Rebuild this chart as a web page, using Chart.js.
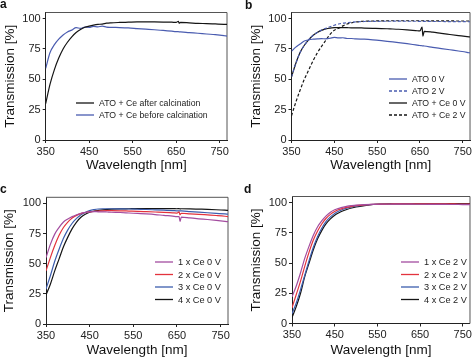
<!DOCTYPE html>
<html>
<head>
<meta charset="utf-8">
<script src="https://cdn.jsdelivr.net/npm/chart.js@4.4.1/dist/chart.umd.min.js"></script>
<style>
  html, body { margin: 0; padding: 0; background: #fff; }
  body { width: 474px; height: 358px; position: relative; overflow: hidden; }
  .panel { position: absolute; width: 237px; height: 179px; }
  .tag { position: absolute; font: bold 12px "Liberation Sans", Arial, sans-serif; color: #111; }
</style>
</head>
<body>
<div class="panel" style="left:0;top:0"><canvas id="chart-a" width="237" height="179"></canvas></div>
<div class="panel" style="left:237px;top:0"><canvas id="chart-b" width="237" height="179"></canvas></div>
<div class="panel" style="left:0;top:179px"><canvas id="chart-c" width="237" height="179"></canvas></div>
<div class="panel" style="left:237px;top:179px"><canvas id="chart-d" width="237" height="179"></canvas></div>
<div class="tag" style="left:0;top:-3px">a</div>
<div class="tag" style="left:245px;top:-2px">b</div>
<div class="tag" style="left:0;top:182px">c</div>
<div class="tag" style="left:244px;top:182px">d</div>
<script>
// wavelength grid [nm] shared by every curve
const wavelengths = [350, 360, 370, 380, 390, 400, 410, 420, 430, 440, 450, 460, 470, 480, 490, 500,
                     520, 540, 560, 580, 600, 620, 640, 650, 655, 657, 660, 680, 700, 720, 740, 760, 767]
const xTicks = [350, 450, 550, 650, 750]
const yTicks = [0, 25, 50, 75, 100]

// a
const ceAfterCalc  = [30, 46, 58, 67.5, 75, 80.5, 85, 88.5, 91, 92.8, 93.8, 94.6, 95.2, 95.5, 96.2, 96.5,
                      96.8, 97, 97.2, 97.3, 97.2, 97.1, 97, 96.8, 97.8, 96.2, 96.9, 96.5, 96, 95.9, 95.6, 95.3, 95.2]
const ceBeforeCalc = [59, 72, 78.5, 83, 86.5, 89, 90.5, 92.5, 92, 93, 92.8, 93.6, 93.2, 93.8, 93, 92.8,
                      92.6, 92.3, 91.8, 91.3, 90.8, 90.2, 89.6, 89.3, 89.2, 89, 89, 88.4, 87.9, 87.3, 86.8, 86, 85.6]
// b
const ato0V   = [73, 76.5, 79, 81.5, 82.5, 83, 83.3, 83.5, 83.3, 83.8, 84.5, 84.1, 84.2, 83.6, 83.6, 83.2,
                 83, 82.5, 81.8, 81, 80.2, 79.3, 78.3, 77.8, 77.6, 77.5, 77.4, 76.3, 75.3, 74.3, 73.3, 72.2, 71.7]
const ato2V   = [52, 63, 72, 78, 82.5, 86, 88.5, 90.5, 92, 93.3, 94.5, 95.5, 96.2, 96.6, 97, 97.3,
                 97.6, 97.7, 97.8, 97.8, 97.9, 97.8, 97.8, 97.7, 97.7, 97.7, 97.7, 97.6, 97.6, 97.5, 97.5, 97.4, 97.4]
const atoCe0V = [52, 63, 72, 78, 82.5, 86, 88.5, 90.3, 91.5, 92.2, 92.5, 92.6, 92.6, 92.5, 92.4, 92.4,
                 92.2, 92, 91.8, 91.5, 91.2, 90.7, 90.1, 89.8, 93, 85.5, 89.5, 88.8, 87.8, 86.9, 86, 85.1, 84.8]
const atoCe2V = [20, 31, 41, 50, 57.5, 65, 71.5, 77, 82, 87, 90.3, 92, 94, 95.5, 96.5, 97.2,
                 97.8, 98, 98.1, 98.2, 98.2, 98.2, 98.2, 98.2, 98.2, 98.2, 98.2, 98.1, 98.1, 98.1, 98, 98, 98]
// c
const ce1x0V = [55, 66, 74.5, 80, 84.5, 87, 89, 90.5, 91.8, 92.4, 93, 93.1, 93, 93, 92.8, 92.6,
                92.4, 92, 91.6, 91.2, 90.7, 90, 89.4, 89, 89, 85, 88.6, 87.9, 87.2, 86.6, 85.9, 85.1, 84.8]
const ce2x0V = [44, 55, 65, 73.5, 80, 84.5, 87.8, 90, 91.5, 92.4, 93, 93.4, 93.6, 93.8, 93.9, 93.9,
                93.8, 93.6, 93.4, 93.1, 92.8, 92.5, 92.1, 91.9, 93, 90.5, 91.8, 91.3, 90.9, 90.4, 89.9, 89.3, 89]
const ce3x0V = [29, 40, 52, 62, 71, 78, 83.5, 87.5, 90.5, 92.5, 94, 94.8, 95.3, 95.5, 95.5, 95.5,
                95.4, 95.3, 95.1, 94.9, 94.6, 94.3, 94, 93.8, 93.8, 93.7, 93.7, 93.2, 92.7, 92.2, 91.7, 91.2, 91]
const ce4x0V = [24, 33, 44, 54, 64, 72, 79, 84.5, 88.5, 91, 92.6, 93.5, 94.1, 94.6, 95, 95.2,
                95.4, 95.5, 95.6, 95.6, 95.6, 95.6, 95.6, 95.5, 95.6, 95.4, 95.5, 95.4, 95.2, 95, 94.7, 94.3, 94.1]
// d
const ce1x2V = [22, 31, 42, 54, 64, 73, 80, 85, 89, 92, 94, 95.2, 96.2, 97, 97.5, 97.9,
                98.3, 98.5, 98.6, 98.6, 98.7, 98.7, 98.6, 98.6, 98.6, 98.6, 98.6, 98.5, 98.5, 98.4, 98.4, 98.3, 98.3]
const ce2x2V = [13, 24, 35, 47.5, 59, 69, 76.5, 82.5, 87, 90.2, 92.6, 94.2, 95.3, 96.2, 96.9, 97.4,
                98.1, 98.5, 98.7, 98.8, 98.9, 98.9, 98.9, 98.9, 98.9, 98.9, 98.9, 98.9, 98.9, 98.9, 98.8, 98.8, 98.8]
const ce3x2V = [8, 17, 28, 40, 52, 63, 72, 79, 84.5, 88.2, 91, 93, 94.5, 95.6, 96.4, 97,
                97.9, 98.5, 98.7, 98.8, 98.8, 98.8, 98.8, 98.8, 98.8, 98.8, 98.8, 98.7, 98.7, 98.6, 98.6, 98.5, 98.5]
const ce4x2V = [5, 14, 25, 39, 50, 61, 70, 77, 82.5, 86.5, 89.5, 91.6, 93.2, 94.5, 95.5, 96.3,
                97.5, 98.4, 98.8, 99, 99, 99.1, 99.1, 99.1, 99.1, 99.1, 99.1, 99.1, 99.1, 99.1, 99.1, 99.1, 99.1]

const BLUE    = '#4a5cb0'
const MAGENTA = '#a34c9f'
const RED     = '#e3333d'
const BLUE2   = '#3c5dae'
const BLACK   = '#151515'
const FONT    = '"Liberation Sans", Arial, Helvetica, sans-serif'

Chart.defaults.font.family = FONT;
Chart.defaults.color = '#222';

// legend drawn inside the plot area
const innerLegend = {
    id: 'innerLegend',
    afterDraw(chart, args, opts) {
        const ctx = chart.ctx;
        ctx.save();
        ctx.font = opts.size + 'px ' + FONT;
        ctx.textBaseline = 'middle';
        chart.data.datasets.forEach((ds, i) => {
            const y = opts.y + i * opts.step;
            ctx.strokeStyle = ds.borderColor;
            ctx.lineWidth = 1.3;
            ctx.setLineDash(ds.borderDash || []);
            ctx.beginPath();
            ctx.moveTo(opts.x, y);
            ctx.lineTo(opts.x + 18, y);
            ctx.stroke();
            ctx.setLineDash([]);
            ctx.fillStyle = '#222';
            ctx.fillText(ds.label, opts.x + 23, y + 0.5);
        });
        ctx.restore();
    }
};

// top and right edge of the box
const frame = {
    id: 'frame',
    beforeDatasetsDraw(chart) {
        const { ctx, chartArea: { left, top, right, bottom } } = chart;
        ctx.save();
        ctx.strokeStyle = '#555';
        ctx.lineWidth = 1;
        ctx.beginPath();
        ctx.moveTo(left, top);
        ctx.lineTo(right, top);
        ctx.lineTo(right, bottom);
        ctx.stroke();
        ctx.restore();
    }
};

function series(label, values, color, dashed) {
    return {
        label: label,
        data: values.map((v, i) => ({ x: wavelengths[i], y: v })),
        borderColor: color,
        borderWidth: 1.2,
        borderDash: dashed ? [3, 2] : [],
        pointRadius: 0,
        cubicInterpolationMode: 'monotone',
        fill: false,
    };
}

function makeChart(id, datasets, lay) {
    new Chart(document.getElementById(id), {
        type: 'line',
        data: { datasets: datasets },
        plugins: [frame, innerLegend],
        options: {
            responsive: false,
            animation: false,
            devicePixelRatio: 1,
            layout: { padding: { left: 0, top: lay.top, right: lay.right, bottom: 0 } },
            plugins: {
                legend: { display: false },
                tooltip: { enabled: false },
                innerLegend: lay.legend,
            },
            scales: {
                x: {
                    type: 'linear',
                    min: 350,
                    max: 767,
                    afterBuildTicks: s => { s.ticks = xTicks.map(v => ({ value: v })) },
                    afterFit: s => { s.height = lay.xHeight },
                    border: { display: true, color: '#222', width: 1 },
                    grid: { drawOnChartArea: false, tickLength: 3, color: '#222' },
                    ticks: { font: { size: 11 }, padding: 2, maxRotation: 0, color: '#222' },
                    title: { display: true, text: 'Wavelength [nm]', font: { size: 13.5 },
                             padding: { top: 0, bottom: lay.xTitlePad }, color: '#111' },
                },
                y: {
                    min: 0,
                    max: 105,
                    afterBuildTicks: s => { s.ticks = yTicks.map(v => ({ value: v })) },
                    afterFit: s => { s.width = lay.yWidth },
                    border: { display: true, color: '#222', width: 1 },
                    grid: { drawOnChartArea: false, tickLength: 3, color: '#222' },
                    ticks: { font: { size: 11 }, padding: 2, color: '#222' },
                    title: { display: true, text: 'Transmission [%]', font: { size: 13.5 },
                             padding: { top: lay.yTitlePad, bottom: 0 }, color: '#111' },
                },
            },
        },
    });
}

makeChart('chart-a', [
    series('ATO + Ce after calcination', ceAfterCalc, BLACK),
    series('ATO + Ce before calcination', ceBeforeCalc, BLUE),
], { top: 12.5, right: 10, xHeight: 39, yWidth: 45.7, xTitlePad: 6, yTitlePad: 1.7,
     legend: { x: 76, y: 103, step: 12, size: 8.7 } });

makeChart('chart-b', [
    series('ATO 0 V', ato0V, BLUE),
    series('ATO 2 V', ato2V, BLUE, true),
    series('ATO + Ce 0 V', atoCe0V, BLACK),
    series('ATO + Ce 2 V', atoCe2V, BLACK, true),
], { top: 12.5, right: 2, xHeight: 39, yWidth: 54.5, xTitlePad: 6, yTitlePad: 10.9,
     legend: { x: 152, y: 79, step: 12, size: 8.7 } });

makeChart('chart-c', [
    series('1 x Ce 0 V', ce1x0V, MAGENTA),
    series('2 x Ce 0 V', ce2x0V, RED),
    series('3 x Ce 0 V', ce3x0V, BLUE2),
    series('4 x Ce 0 V', ce4x0V, BLACK),
], { top: 18.3, right: 9, xHeight: 34, yWidth: 46, xTitlePad: -0.7, yTitlePad: 1.4,
     legend: { x: 155, y: 83, step: 12.5, size: 9.2 } });

makeChart('chart-d', [
    series('1 x Ce 2 V', ce1x2V, MAGENTA),
    series('2 x Ce 2 V', ce2x2V, RED),
    series('3 x Ce 2 V', ce3x2V, BLUE2),
    series('4 x Ce 2 V', ce4x2V, BLACK),
], { top: 17.5, right: 2, xHeight: 34.5, yWidth: 55, xTitlePad: -0.7, yTitlePad: 10.9,
     legend: { x: 164, y: 83, step: 12.5, size: 9.2 } });
</script>
</body>
</html>
